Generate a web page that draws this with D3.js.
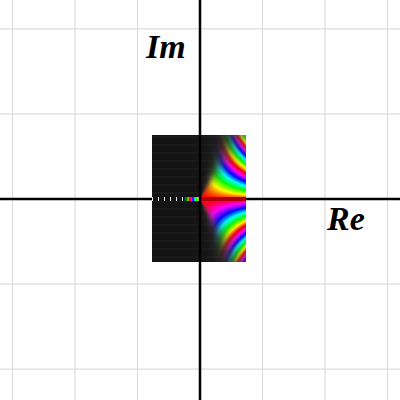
<!DOCTYPE html>
<html>
<head>
<script src="https://cdn.jsdelivr.net/npm/d3@7"></script>
<style>body{margin:0;background:#fff}</style>
</head>
<body>
<div id="container"></div>
<script>
/* CONSTANTS AND GLOBALS */
const width = 400, height = 400;

// grid positions in plot units
const xGrid = [-3, -2, -1, 1, 2, 3];
const yGrid = [-2, -1, 1, 2];
// region of the complex plane that is coloured
const reRange = [-0.77, 0.74];
const imRange = [-0.74, 0.75];
const K = 28;           // phase ~ K * x * y
const edgeAngle = 0.95; // dark beyond this argument (rad)

// SCALES
const xScale = d3.scaleLinear().domain([-3.2, 3.2]).range([0, 400]);
const yScale = d3.scaleLinear().domain([-2.35, 2.35]).range([399, -1]);

const svg = d3.select("#container").append("svg")
  .attr("width", width).attr("height", height);

// GRID
svg.selectAll(".vg").data(xGrid).join("line")
  .attr("x1", d => xScale(d)).attr("x2", d => xScale(d))
  .attr("y1", 0).attr("y2", height)
  .attr("stroke", "#dcdcdc").attr("stroke-width", 1.2);
svg.selectAll(".hg").data(yGrid).join("line")
  .attr("y1", d => yScale(d)).attr("y2", d => yScale(d))
  .attr("x1", 0).attr("x2", width)
  .attr("stroke", "#dcdcdc").attr("stroke-width", 1.2);

// horizontal axis (covered by the image inside the coloured box)
svg.append("line").attr("x1", 0).attr("x2", width)
  .attr("y1", yScale(0)).attr("y2", yScale(0))
  .attr("stroke", "#000").attr("stroke-width", 2.5);

// DOMAIN COLOURING
const x0 = Math.round(xScale(reRange[0])), x1 = Math.round(xScale(reRange[1]));
const y0 = Math.round(yScale(imRange[1])), y1 = Math.round(yScale(imRange[0]));
const cw = x1 - x0, ch = y1 - y0;
const canvas = document.createElement("canvas");
canvas.width = cw; canvas.height = ch;
const ctx = canvas.getContext("2d");
const img = ctx.createImageData(cw, ch);
const py0 = yScale(0);
for (let j = 0; j < ch; j++) {
  for (let i = 0; i < cw; i++) {
    const px = x0 + i + 0.5, py = y0 + j + 0.5;
    const x = xScale.invert(px), y = yScale.invert(py);
    const th = Math.abs(Math.atan2(y, x));
    let c;
    if (Math.abs(py - py0) < 1.6) {
      // the axis row itself
      if (x >= 0) c = d3.rgb(175, 0, 10);
      else if (x > -0.28) c = d3.rgb(d3.hsl(-x * 2200, 1, 0.5 * Math.min(1, (0.28 + x) * 8)));
      else c = (i % 6 === 0) ? d3.rgb(235, 235, 235) : d3.rgb(20, 20, 20);
    } else {
      const hue = ((K * x * y * 180 / Math.PI) % 360 + 360) % 360;
      const t = 1 / (1 + Math.exp(-(edgeAngle - th) * 9));
      const stripe = (Math.floor(py) % 8 < 2) ? 6 : 0;
      c = d3.rgb(d3.hsl(hue, t, 0.08 + 0.42 * t));
      const s = stripe * (1 - t);
      c = d3.rgb(c.r + s, c.g + s, c.b + s);
    }
    const k = 4 * (j * cw + i);
    img.data[k] = c.r; img.data[k + 1] = c.g; img.data[k + 2] = c.b; img.data[k + 3] = 255;
  }
}
ctx.putImageData(img, 0, 0);
svg.append("image")
  .attr("x", x0).attr("y", y0).attr("width", cw).attr("height", ch)
  .attr("href", canvas.toDataURL());

// vertical axis on top
svg.append("line").attr("y1", 0).attr("y2", height)
  .attr("x1", xScale(0)).attr("x2", xScale(0))
  .attr("stroke", "#000").attr("stroke-width", 2.5);

// LABELS
svg.append("text").attr("x", 146).attr("y", 58).text("Im")
  .style("font", "italic bold 34px 'Liberation Serif'");
svg.append("text").attr("x", 327).attr("y", 230).text("Re")
  .style("font", "italic bold 34px 'Liberation Serif'");
</script>
</body>
</html>
